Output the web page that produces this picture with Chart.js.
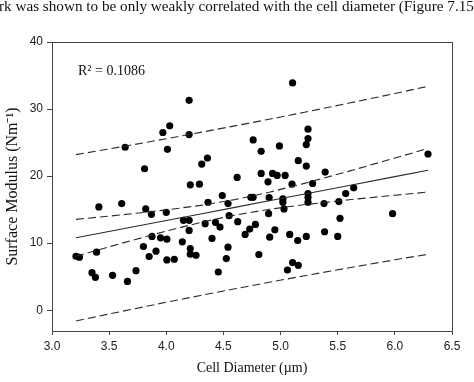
<!DOCTYPE html>
<html>
<head>
<meta charset="utf-8">
<script src="https://cdn.jsdelivr.net/npm/chart.js@4.4.0/dist/chart.umd.min.js"></script>
<style>
  body { margin: 0; background: #fff; }
  #wrap { position: relative; width: 474px; height: 382px; overflow: hidden; }
  #lead {
    position: absolute; left: -1px; top: -3px; white-space: nowrap;
    font-family: "Liberation Serif", serif; font-size: 15.2px; color: #111;
  }
  canvas { position: absolute; left: 0; top: 0; }
</style>
</head>
<body>
<div id="wrap">
  <canvas id="chart" width="474" height="382"></canvas>
  <div id="lead">rk was shown to be only weakly correlated with the cell diameter (Figure 7.15</div>
</div>
<script>
const diameter = [
  3.21, 3.24, 3.35, 3.38, 3.39, 3.41, 3.53, 3.61, 3.64, 3.66,
  3.735, 3.80, 3.81, 3.82, 3.85, 3.87, 3.875, 3.91, 3.95, 3.97,
  4.00, 4.005, 4.005, 4.01, 4.03, 4.07, 4.14, 4.15, 4.20, 4.20,
  4.20, 4.20, 4.21, 4.21, 4.21, 4.26, 4.29, 4.31, 4.34, 4.36,
  4.365, 4.40, 4.43, 4.455, 4.47, 4.49, 4.525, 4.54, 4.54, 4.55,
  4.62, 4.625, 4.69, 4.73, 4.74, 4.76, 4.76, 4.78, 4.81, 4.83,
  4.83, 4.89, 4.895, 4.90, 4.905, 4.93, 4.95, 4.97, 4.99, 5.02,
  5.02, 5.03, 5.04, 5.06, 5.08, 5.10, 5.105, 5.105, 5.15, 5.155,
  5.155, 5.225, 5.225, 5.225, 5.24, 5.24, 5.24, 5.24, 5.24, 5.28,
  5.38, 5.385, 5.39, 5.50, 5.51, 5.52, 5.57, 5.64, 5.98, 6.29
]
const modulus = [
  8.05, 7.9, 5.6, 4.9, 8.65, 15.4, 5.2, 15.9, 24.3, 4.3,
  5.9, 9.5, 21.1, 15.1, 8.0, 14.3, 11.0, 8.8, 10.8, 26.5,
  14.6, 10.6, 7.5, 24.0, 27.5, 7.6, 10.2, 13.4, 31.3, 26.2,
  13.4, 11.9, 18.7, 9.2, 8.35, 8.2, 18.8, 21.8, 12.9, 22.7,
  16.1, 10.7, 13.1, 5.7, 12.4, 17.1, 7.7, 15.9, 9.4, 14.1,
  19.8, 13.2, 11.3, 12.1, 16.85, 16.85, 25.4, 12.8, 8.3, 23.7,
  20.4, 19.15, 14.4, 16.8, 10.9, 20.4, 12.0, 20.1, 24.5, 16.6,
  16.1, 15.1, 20.1, 6.0, 11.3, 18.8, 33.9, 7.1, 10.4, 22.3,
  6.7, 24.7, 21.5, 11.0, 27.0, 25.6, 17.4, 16.8, 16.1, 18.9,
  15.9, 11.7, 20.6, 11.0, 16.2, 13.7, 17.4, 18.25, 14.4, 23.3
]

// regression line and bands, read at these diameters
const bandX = [3.21, 3.6, 4.0, 4.3, 4.6, 4.9, 5.2, 5.6, 6.0, 6.29]
const fitY = [10.80, 12.07, 13.38, 14.36, 15.34, 16.32, 17.30, 18.61, 19.92, 20.87]
const confUpper = [13.55, 14.20, 14.96, 15.63, 16.49, 17.59, 18.88, 20.74, 22.69, 24.12]
const confLower = [8.05, 9.94, 11.80, 13.09, 14.19, 15.05, 15.72, 16.48, 17.15, 17.62]
const predUpper = [23.20, 24.35, 25.57, 26.52, 27.49, 28.48, 29.49, 30.89, 32.32, 33.39]
const predLower = [-1.60, -0.21, 1.19, 2.20, 3.19, 4.16, 5.11, 6.33, 7.52, 8.35]

const xTicks = [3.0, 3.5, 4.0, 4.5, 5.0, 5.5, 6.0, 6.5]
const yTicks = [0, 10, 20, 30, 40]

const toXY = (xs, ys) => xs.map((x, i) => ({ x, y: ys[i] }))

const lineSet = (ys, dashed) => ({
  data: toXY(bandX, ys),
  showLine: true,
  borderColor: '#2a2a2a',
  borderWidth: 1.1,
  borderDash: dashed ? [8, 4] : [],
  pointRadius: 0,
  tension: 0,
  fill: false
})

// box round the plot and the R² note
const frame = {
  id: 'frame',
  afterDatasetsDraw(chart) {
    const { ctx, chartArea: a } = chart
    ctx.save()
    ctx.strokeStyle = '#444'
    ctx.lineWidth = 1
    ctx.strokeRect(a.left + 0.5, a.top + 0.5, a.right - a.left, a.bottom - a.top)
    ctx.fillStyle = '#111'
    ctx.font = '14px "Liberation Serif"'
    ctx.textBaseline = 'middle'
    ctx.fillText('R² = 0.1086', 78, 71)
    ctx.restore()
  }
}

new Chart(document.getElementById('chart'), {
  type: 'scatter',
  data: {
    datasets: [
      lineSet(predUpper, true),
      lineSet(confUpper, true),
      lineSet(fitY, false),
      lineSet(confLower, true),
      lineSet(predLower, true),
      {
        data: toXY(diameter, modulus),
        pointRadius: 3.6,
        pointBackgroundColor: '#000',
        pointBorderWidth: 0,
        showLine: false
      }
    ]
  },
  options: {
    responsive: false,
    animation: false,
    devicePixelRatio: 1,
    layout: { padding: { left: 0, top: 42, right: 22, bottom: 0 } },
    plugins: { legend: { display: false }, tooltip: { enabled: false } },
    scales: {
      x: {
        type: 'linear',
        min: 3,
        max: 6.5,
        afterFit: s => { s.height = 51 },
        afterBuildTicks: s => { s.ticks = xTicks.map(v => ({ value: v })) },
        grid: { drawOnChartArea: false, tickLength: 4, tickColor: '#444' },
        border: { color: '#444' },
        ticks: {
          padding: 4,
          color: '#222',
          font: { family: '"Liberation Sans"', size: 12 },
          callback: v => v.toFixed(1)
        },
        title: {
          display: true,
          text: 'Cell Diameter (µm)',
          color: '#111',
          font: { family: '"Liberation Serif"', size: 14 },
          padding: { top: 0, bottom: 5 }
        }
      },
      y: {
        type: 'linear',
        min: -3.1,
        max: 40,
        afterFit: s => { s.width = 52 },
        afterBuildTicks: s => { s.ticks = yTicks.map(v => ({ value: v })) },
        grid: { drawOnChartArea: false, tickLength: 5, tickColor: '#444' },
        border: { color: '#444' },
        ticks: {
          padding: 4,
          color: '#222',
          font: { family: '"Liberation Sans"', size: 12 }
        },
        title: {
          display: true,
          text: 'Surface Modulus (Nm⁻¹)',
          color: '#111',
          font: { family: '"Liberation Serif"', size: 16 },
          padding: { top: 3, bottom: 0 }
        }
      }
    }
  },
  plugins: [frame]
})
</script>
</body>
</html>
